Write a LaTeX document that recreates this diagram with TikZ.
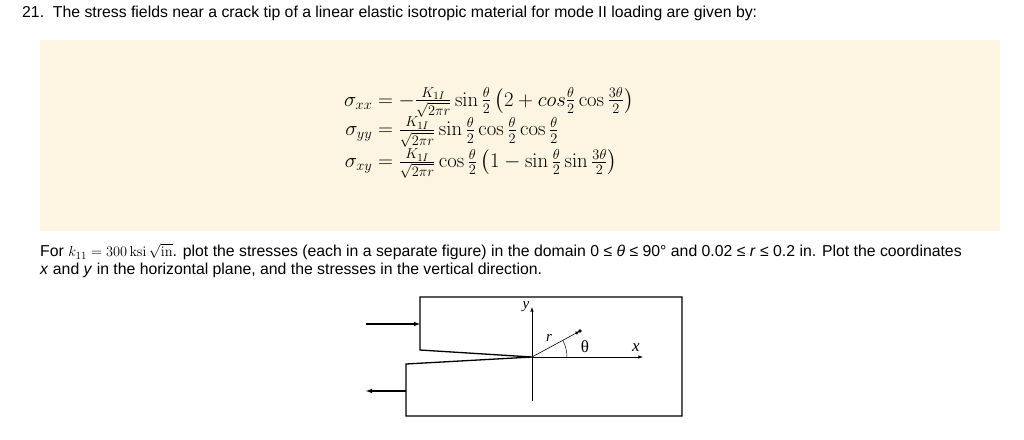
\documentclass[tikz,border=0pt]{standalone}
\usepackage{amsmath}
\usepackage[no-math]{fontspec}
\setmainfont{Liberation Sans}
\newfontfamily\figserif{Liberation Serif}
\definecolor{cream}{HTML}{FDF5E2}
\tikzset{
  txt/.style={anchor=west, inner sep=0pt, font=\fontsize{15.8}{19}\selectfont},
  edge/.style={line width=1.3pt, line join=miter},
  axis/.style={line width=0.6pt, -latex},
  load/.style={line width=1.1pt, -latex}
}
\begin{document}
\begin{tikzpicture}[x=1pt, y=-1pt]
  \useasboundingbox (0,0) rectangle (1024,439);
  \fill[cream] (40,40) rectangle (1000,231);
  \node[txt] (title) at (22,13) {21.\ \ The stress fields near a crack tip of a linear elastic isotropic material for mode II loading are given by:};
  % equations
  \node[anchor=west, inner sep=0pt, font=\fontsize{22}{26}\selectfont] (eqs) at (344,133) {$\displaystyle
    \begin{aligned}
      \sigma_{xx} &= -\tfrac{K_{1I}}{\sqrt{2\pi r}}\sin\tfrac{\theta}{2}\left(2+cos\tfrac{\theta}{2}\cos\tfrac{3\theta}{2}\right)\\[-4pt]
      \sigma_{yy} &= \tfrac{K_{1I}}{\sqrt{2\pi r}}\sin\tfrac{\theta}{2}\cos\tfrac{\theta}{2}\cos\tfrac{\theta}{2}\\[-2pt]
      \sigma_{xy} &= \tfrac{K_{1I}}{\sqrt{2\pi r}}\cos\tfrac{\theta}{2}\left(1-\sin\tfrac{\theta}{2}\sin\tfrac{3\theta}{2}\right)
    \end{aligned}$};
  \node[txt] (task1) at (40,252) {For $k_{11} = 300\,\mathrm{ksi}\,\sqrt{\mathrm{in}}$. plot the stresses (each in a separate figure) in the domain 0 ≤ \textit{θ} ≤ 90° and 0.02 ≤ \textit{r} ≤ 0.2 in. Plot the coordinates};
  \node[txt] (task2) at (40,270) {\textit{x} and \textit{y} in the horizontal plane, and the stresses in the vertical direction.};
  % cracked specimen
  \coordinate (tip) at (532,357);
  \draw[edge] (420,350) -- (420,297) -- (682,297) -- (682,416) -- (406,416) -- (406,364) -- (tip) -- cycle;
  \coordinate (inA) at (366,324);
  \coordinate (inB) at (420,324);
  \coordinate (outA) at (406,391);
  \coordinate (outB) at (366,391);
  \draw[load] (inA) -- (inB);
  \draw[load] (outA) -- (outB);
  \draw[axis] (532,401) -- (532,307) node[left=-1pt, font=\figserif\itshape\fontsize{15}{15}\selectfont] (ylab) {y};
  \draw[axis] (tip) -- (643,357);
  \node[font=\figserif\itshape\fontsize{17}{17}\selectfont] (xlab) at (636,348) {x};
  \coordinate (rend) at (580,331);
  \draw[line width=0.6pt, -latex] (tip) -- (rend);
  \fill (rend) circle (1.8pt);
  \node[font=\figserif\itshape\fontsize{15}{15}\selectfont] (rlab) at (549,338) {r};
  \draw[line width=0.5pt] (567,357) arc (0:-28:35);
  \node[font=\figserif\fontsize{17}{17}\selectfont] (thlab) at (585,347) {θ};
\end{tikzpicture}
\end{document}
